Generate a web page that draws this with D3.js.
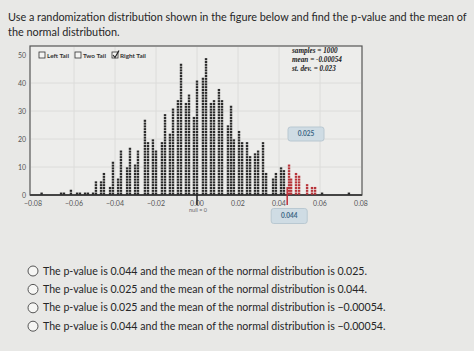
<!DOCTYPE html>
<html>
<head>
<meta charset="utf-8">
<script src="https://cdn.jsdelivr.net/npm/d3@7"></script>
<style>
  html, body { margin: 0; padding: 0; background: #e8e8e6; }
  svg { display: block; }
</style>
</head>
<body>
<div id="chart"></div>
<script>
// Question text
const questionLines = [
    'Use a randomization distribution shown in the figure below and find the p-value and the mean of',
    'the normal distribution.'
];
const answerOptions = [
    'The p-value is 0.044 and the mean of the normal distribution is 0.025.',
    'The p-value is 0.025 and the mean of the normal distribution is 0.044.',
    'The p-value is 0.025 and the mean of the normal distribution is \u22120.00054.',
    'The p-value is 0.044 and the mean of the normal distribution is \u22120.00054.'
];

// Dot plot columns (statistic value -> number of dots)
const colValues = [
    -0.0758, -0.0663, -0.0649, -0.0615, -0.0585, -0.0571, -0.0546, -0.0532,
    -0.0507, -0.0493, -0.0468, -0.0454, -0.0424, -0.0410, -0.0385, -0.0371,
    -0.0341, -0.0327, -0.0302, -0.0288, -0.0254, -0.0239, -0.0215, -0.0200,
    -0.0171, -0.0156, -0.0132, -0.0117, -0.0093, -0.0078, -0.0054, -0.0039,
    -0.0015, 0.0000, 0.0029, 0.0044, 0.0068, 0.0083, 0.0107, 0.0122,
    0.0151, 0.0166, 0.0180, 0.0205, 0.0220, 0.0244, 0.0259, 0.0283,
    0.0298, 0.0322, 0.0337, 0.0371, 0.0385, 0.0410, 0.0424, 0.0449,
    0.0459, 0.0483, 0.0498, 0.0537, 0.0561, 0.0576, 0.0610, 0.0741
];
const colCounts = [
    1, 1, 1, 2, 1, 1, 1, 1,
    1, 5, 5, 8, 3, 12, 6, 16,
    10, 17, 11, 16, 27, 19, 20, 16,
    19, 29, 22, 31, 34, 47, 33, 36,
    28, 41, 42, 49, 33, 34, 38, 34,
    25, 32, 20, 23, 19, 19, 14, 15,
    16, 19, 8, 6, 8, 10, 9, 11,
    6, 8, 7, 4, 3, 3, 1, 1
];

const xTicks = [-0.08, -0.06, -0.04, -0.02, 0, 0.02, 0.04, 0.06, 0.08];
const yTicks = [0, 10, 20, 30, 40, 50];
const tailLabels = ['Left Tail', 'Two Tail', 'Right Tail'];
const tailChecked = [false, false, true];
const statLines = ['samples = 1000', 'mean = -0.00054', 'st. dev. = 0.023'];
const cutoff = 0.044;
const tailProportion = '0.025';

function render() {
    const W = 474, H = 351;
    const svg = d3.select('#chart').append('svg')
        .attr('width', W)
        .attr('height', H);

    // background
    svg.append('rect').attr('width', W).attr('height', H).attr('fill', '#e8e8e6');

    // question text
    svg.selectAll('.q')
        .data(questionLines)
        .enter()
        .append('text')
        .attr('x', 8)
        .attr('y', (d, i) => 21 + i * 15)
        .attr('font-family', 'Lato, sans-serif')
        .attr('font-size', 10.85)
        .attr('fill', '#262626')
        .text(d => d);

    // scales
    const x = d3.scaleLinear().domain([-0.08, 0.08]).range([33, 361]);
    const y = d3.scaleLinear().domain([0, 50]).range([195, 55]);

    // plot frame
    svg.append('rect')
        .attr('x', 30).attr('y', 46)
        .attr('width', 332).attr('height', 149)
        .attr('fill', '#ededeb')
        .attr('stroke', '#555')
        .attr('stroke-width', 1.2);

    // faint grid
    svg.selectAll('.gx')
        .data(xTicks.slice(1, -1))
        .enter()
        .append('line')
        .attr('x1', d => x(d)).attr('x2', d => x(d))
        .attr('y1', 47).attr('y2', 194)
        .attr('stroke', '#dcdcda');
    svg.selectAll('.gy')
        .data(yTicks.slice(1, -1))
        .enter()
        .append('line')
        .attr('x1', 31).attr('x2', 361)
        .attr('y1', d => y(d)).attr('y2', d => y(d))
        .attr('stroke', '#dcdcda');

    // bottom axis line
    svg.append('line')
        .attr('x1', 30).attr('x2', 362)
        .attr('y1', 195).attr('y2', 195)
        .attr('stroke', '#444').attr('stroke-width', 1.8);

    // y tick labels
    svg.selectAll('.yt')
        .data(yTicks)
        .enter()
        .append('text')
        .attr('x', 26)
        .attr('y', d => y(d) + 2.5)
        .attr('text-anchor', 'end')
        .attr('font-family', 'Lato, sans-serif')
        .attr('font-size', 7)
        .attr('fill', '#555')
        .text(d => d);

    // x tick labels
    svg.selectAll('.xt')
        .data(xTicks)
        .enter()
        .append('text')
        .attr('x', d => x(d))
        .attr('y', 206)
        .attr('text-anchor', 'middle')
        .attr('font-family', 'Lato, sans-serif')
        .attr('font-size', 7)
        .attr('fill', '#555')
        .text(d => d3.format('.2f')(d));

    // dots
    const dots = [];
    colValues.forEach((v, i) => {
        for (let k = 1; k <= colCounts[i]; k++) dots.push({ v: v, k: k });
    });
    svg.selectAll('.dot')
        .data(dots)
        .enter()
        .append('rect')
        .attr('x', d => x(d.v) - 1.2)
        .attr('y', d => y(d.k) + 0.35)
        .attr('width', 2.4)
        .attr('height', 2.1)
        .attr('fill', d => d.v >= cutoff && d.v < 0.06 ? '#b8343a' : '#2a2a2a');

    // null marker
    svg.append('line')
        .attr('x1', x(0)).attr('x2', x(0))
        .attr('y1', 195).attr('y2', 205)
        .attr('stroke', '#222').attr('stroke-width', 1.5);
    svg.append('text')
        .attr('x', x(0) + 1).attr('y', 212)
        .attr('text-anchor', 'middle')
        .attr('font-family', 'Lato, sans-serif')
        .attr('font-size', 5.5)
        .attr('fill', '#666')
        .text('null = 0');

    // cutoff marker
    svg.append('line')
        .attr('x1', x(cutoff)).attr('x2', x(cutoff))
        .attr('y1', 187).attr('y2', 205)
        .attr('stroke', '#c0303a').attr('stroke-width', 1.5);

    // value boxes
    function box(cx, cy, w, h, label) {
        svg.append('rect')
            .attr('x', cx - w / 2).attr('y', cy - h / 2)
            .attr('width', w).attr('height', h)
            .attr('rx', 2.5)
            .attr('fill', '#cfdce4')
            .attr('stroke', '#b9c8d1');
        svg.append('text')
            .attr('x', cx).attr('y', cy + 2.3)
            .attr('text-anchor', 'middle')
            .attr('font-family', 'Lato, sans-serif')
            .attr('font-weight', 'bold')
            .attr('font-size', 6.5)
            .attr('fill', '#3c6784')
            .text(label);
    }
    box(306, 134, 36, 14, tailProportion);
    box(x(cutoff) + 2, 216, 36, 15, String(cutoff));

    // tail checkboxes
    const cbX = [39, 75, 112];
    tailLabels.forEach((t, i) => {
        svg.append('rect')
            .attr('x', cbX[i]).attr('y', 52)
            .attr('width', 6).attr('height', 6)
            .attr('fill', '#f4f4f2')
            .attr('stroke', '#333').attr('stroke-width', 0.8);
        if (tailChecked[i]) {
            svg.append('path')
                .attr('d', `M${cbX[i] + 1},${55} L${cbX[i] + 3},${57.5} L${cbX[i] + 7},${50.5}`)
                .attr('fill', 'none')
                .attr('stroke', '#222').attr('stroke-width', 1.2);
        }
        svg.append('text')
            .attr('x', cbX[i] + 8).attr('y', 57.5)
            .attr('font-family', 'Lato, sans-serif')
            .attr('font-weight', 'bold')
            .attr('font-size', 6.4)
            .attr('fill', '#333')
            .text(t);
    });

    // stats
    svg.selectAll('.st')
        .data(statLines)
        .enter()
        .append('text')
        .attr('x', 292)
        .attr('y', (d, i) => 53 + i * 9)
        .attr('font-family', '"Liberation Serif", serif')
        .attr('font-style', 'italic')
        .attr('font-weight', 'bold')
        .attr('font-size', 7.2)
        .attr('fill', '#222')
        .text(d => d);

    // answer options
    const opt = svg.selectAll('.opt')
        .data(answerOptions)
        .enter()
        .append('g')
        .attr('transform', (d, i) => `translate(0,${271 + i * 18.4})`);
    opt.append('circle')
        .attr('cx', 33).attr('cy', 0).attr('r', 5)
        .attr('fill', '#f6f6f4')
        .attr('stroke', '#555').attr('stroke-width', 1);
    opt.append('text')
        .attr('x', 43).attr('y', 3.6)
        .attr('font-family', 'Lato, sans-serif')
        .attr('font-size', 10.6)
        .attr('fill', '#262626')
        .text(d => d);
}

render();
</script>
</body>
</html>
